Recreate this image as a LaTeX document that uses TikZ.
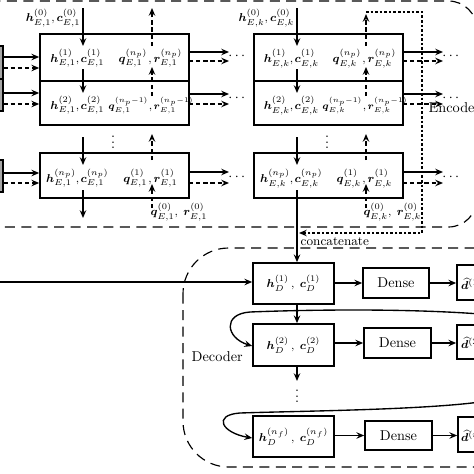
\documentclass[tikz,border=0pt]{standalone}
\usepackage{amsmath,bm}
\usetikzlibrary{arrows.meta,fit}
\begin{document}
\begin{tikzpicture}[x=0.7pt,y=-0.7pt,
  box/.style={draw,line width=1.15pt,inner sep=0pt},
  graybox/.style={draw,fill=gray!70,line width=0.8pt,inner sep=0pt},
  tipped/.style={-{Stealth[length=5.5pt,width=4.6pt,inset=2pt]}},
  arr/.style={line width=0.95pt,tipped},
  darr/.style={arr,dash pattern=on 3pt off 2pt},
  fback/.style={line width=0.9pt,dash pattern=on 1.8pt off 1.4pt},
  region/.style={line width=0.8pt,dash pattern=on 7pt off 4.5pt},
  lbl/.style={inner sep=0.3pt,font=\footnotesize},
  slbl/.style={inner sep=0.3pt,font=\fontsize{7.2}{8}\selectfont},
  dlbl/.style={inner sep=0.5pt,font=\footnotesize},
]
\useasboundingbox (0,0) rectangle (474,474);

% encoder and decoder regions
\draw[region,rounded corners=20pt] (-40,1) rectangle (477,227);
\draw[region,rounded corners=32pt] (183,248) rectangle (540,467);
\node[inner sep=1pt,anchor=west] (enclbl) at (427,108) {Encoder};
\node[inner sep=1pt,anchor=west] (declbl) at (190,357) {Decoder};

% gray input boxes
\node[graybox,fit={(-10,46) (3,79)}] (g1) {};
\node[graybox,fit={(-10,79) (3,111)}] (g2) {};
\node[graybox,fit={(-10,160) (3,192)}] (g3) {};

\foreach \c/\dx/\s in {1/0/1, 2/214/k}{
\begin{scope}[shift={(\dx,0)}]
  \node[box,fit={(40,34) (189,81)}] (e\c a) {};
  \node[box,fit={(40,81) (189,125)}] (e\c b) {};
  \node[box,fit={(40,153) (189,198)}] (e\c c) {};
  % row 1
  \node[lbl,anchor=base east] (h\c a) at (80,62) {$\bm h^{(1)}_{E,\s},$};
  \node[lbl,anchor=base west] (c\c a) at (80,62) {$\bm c^{(1)}_{E,\s}$};
  \node[lbl,anchor=base east] (q\c a) at (148,62) {$\bm q^{(n_p)}_{E,\s}$};
  \node[lbl,anchor=base] (k\c a) at (150,62) {$,$};
  \node[lbl,anchor=base west] (r\c a) at (153,62) {$\bm r^{(n_p)}_{E,\s}$};
  % row 2
  \node[lbl,anchor=base east] (h\c b) at (80,109) {$\bm h^{(2)}_{E,\s},$};
  \node[lbl,anchor=base west] (c\c b) at (80,109) {$\bm c^{(2)}_{E,\s}$};
  \node[slbl,anchor=base east] (q\c b) at (149,109) {$\bm q^{(n_p-1)}_{E,\s}$};
  \node[lbl,anchor=base] (k\c b) at (150.5,109) {$,$};
  \node[slbl,anchor=base west] (r\c b) at (153,109) {$\bm r^{(n_p-1)}_{E,\s}$};
  % row 3
  \node[lbl,anchor=base east] (h\c c) at (80,182) {$\bm h^{(n_p)}_{E,\s},$};
  \node[lbl,anchor=base west] (c\c c) at (80,182) {$\bm c^{(n_p)}_{E,\s}$};
  \node[lbl,anchor=base east] (q\c c) at (148,182) {$\bm q^{(1)}_{E,\s}$};
  \node[lbl,anchor=base] (k\c c) at (150,182) {$,$};
  \node[lbl,anchor=base west] (r\c c) at (153,182) {$\bm r^{(1)}_{E,\s}$};
  % inputs
  \node[lbl,anchor=east] (h\c 0) at (81,18) {$\bm h^{(0)}_{E,\s},\bm c^{(0)}_{E,\s}$};
  \node[lbl,anchor=east] (q\c 0) at (208,212) {$\bm q^{(0)}_{E,\s},\;\bm r^{(0)}_{E,\s}$};
  \node (vd\c) at (113,138) {$\vdots$};
  % vertical solid arrows
  \draw[arr] (83,8) -- (83,46);
  \draw[arr] (83,69) -- (83,93);
  \draw[arr] (83,137) -- (83,165);
  % vertical dashed arrows
  \draw[darr] (152,96) -- (152,67);
  \draw[darr] (152,160) -- (152,134);
  \draw[darr] (152,208) -- (152,184);
  % outputs to the right
  \draw[arr] (189,52) -- (229,52);
  \draw[darr] (189,61) -- (229,61);
  \draw[arr] (189,94) -- (229,94);
  \draw[darr] (189,104) -- (229,104);
  \draw[arr] (189,172) -- (229,172);
  \draw[darr] (189,183) -- (229,183);
  \node (dots\c a) at (238,56) {$\cdots$};
  \node (dots\c b) at (238,98) {$\cdots$};
  \node (dots\c c) at (238,177) {$\cdots$};
\end{scope}
}

% inputs from gray boxes
\draw[arr] (g1.east |- 0,57) -- (e1a.west |- 0,57);
\draw[darr] (g1.east |- 0,68) -- (e1a.west |- 0,68);
\draw[arr] (g2.east |- 0,93) -- (e1b.west |- 0,93);
\draw[darr] (g2.east |- 0,104) -- (e1b.west |- 0,104);
\draw[arr] (g3.east |- 0,173) -- (e1c.west |- 0,173);
\draw[darr] (g3.east |- 0,183) -- (e1c.west |- 0,183);

% column 1 top dashed and bottom solid
\draw[darr] (152,46) -- (152,8);
\draw[arr] (83,190) -- (83,218);
% column 2 top dashed and feedback loop
\draw[darr] (366,46) -- (366,14);
\draw[fback,tipped] (366,12) -- (422,12) -- (422,233) -- (299,233);
\node[inner sep=1pt,anchor=west,font=\small] (concat) at (299,242) {concatenate};

% decoder
\node[box,fit={(253,263) (334,304)}] (d1) {};
\node[box,fit={(253,324) (334,366)}] (d2) {};
\node[box,fit={(253,416) (334,457)}] (d3) {};
\node[dlbl] at (d1) {$\bm h^{(1)}_D\,,\;\bm c^{(1)}_D$};
\node[dlbl] at (d2) {$\bm h^{(2)}_D\,,\;\bm c^{(2)}_D$};
\node[dlbl] at (d3) {$\bm h^{(n_f)}_D\,,\;\bm c^{(n_f)}_D$};
\node[box,fit={(363,268) (429,298)}] (den1) {};
\node[box,fit={(364,328) (431,358)}] (den2) {};
\node[box,fit={(365,421) (432,450)}] (den3) {};
\node at (den1) {Dense};
\node at (den2) {Dense};
\node at (den3) {Dense};
\node[box,fit={(457,265) (520,300)}] (o1) {};
\node[box,fit={(457,325) (520,359)}] (o2) {};
\node[box,fit={(458,417) (520,452)}] (o3) {};
\node[dlbl,anchor=west] (ot1) at (460,284) {$\widehat{\bm d}^{(1)}$};
\node[dlbl,anchor=west] (ot2) at (460,343) {$\widehat{\bm d}^{(2)}$};
\node[dlbl,anchor=west] (ot3) at (460,436) {$\widehat{\bm d}^{(n_f)}$};

\draw[arr] (297,190) -- (d1.north -| 297,0);
\draw[arr] (0,282) -- (d1.west |- 0,282);
\draw[arr] (d1.south -| 297,0) -- (d2.north -| 297,0);
\draw[arr] (d2.south -| 297,0) -- (297,381);
\node (vdd) at (297,392) {$\vdots$};
\foreach \i in {1,2,3}{
  \draw[arr] (d\i.east |- den\i.west) -- (den\i.west);
  \draw[arr] (den\i.east) -- (o\i.west |- den\i.east);
}
\draw[line width=0.95pt,tipped] (480,314) .. controls (400,308) and (300,310) .. (250,312)
   .. controls (222,314) and (226,338) .. (d2.west |- 0,346);
\draw[line width=0.95pt,tipped] (480,402) .. controls (420,410) and (300,411) .. (240,413)
   .. controls (212,415) and (222,433) .. (d3.west |- 0,438);
\end{tikzpicture}
\end{document}
